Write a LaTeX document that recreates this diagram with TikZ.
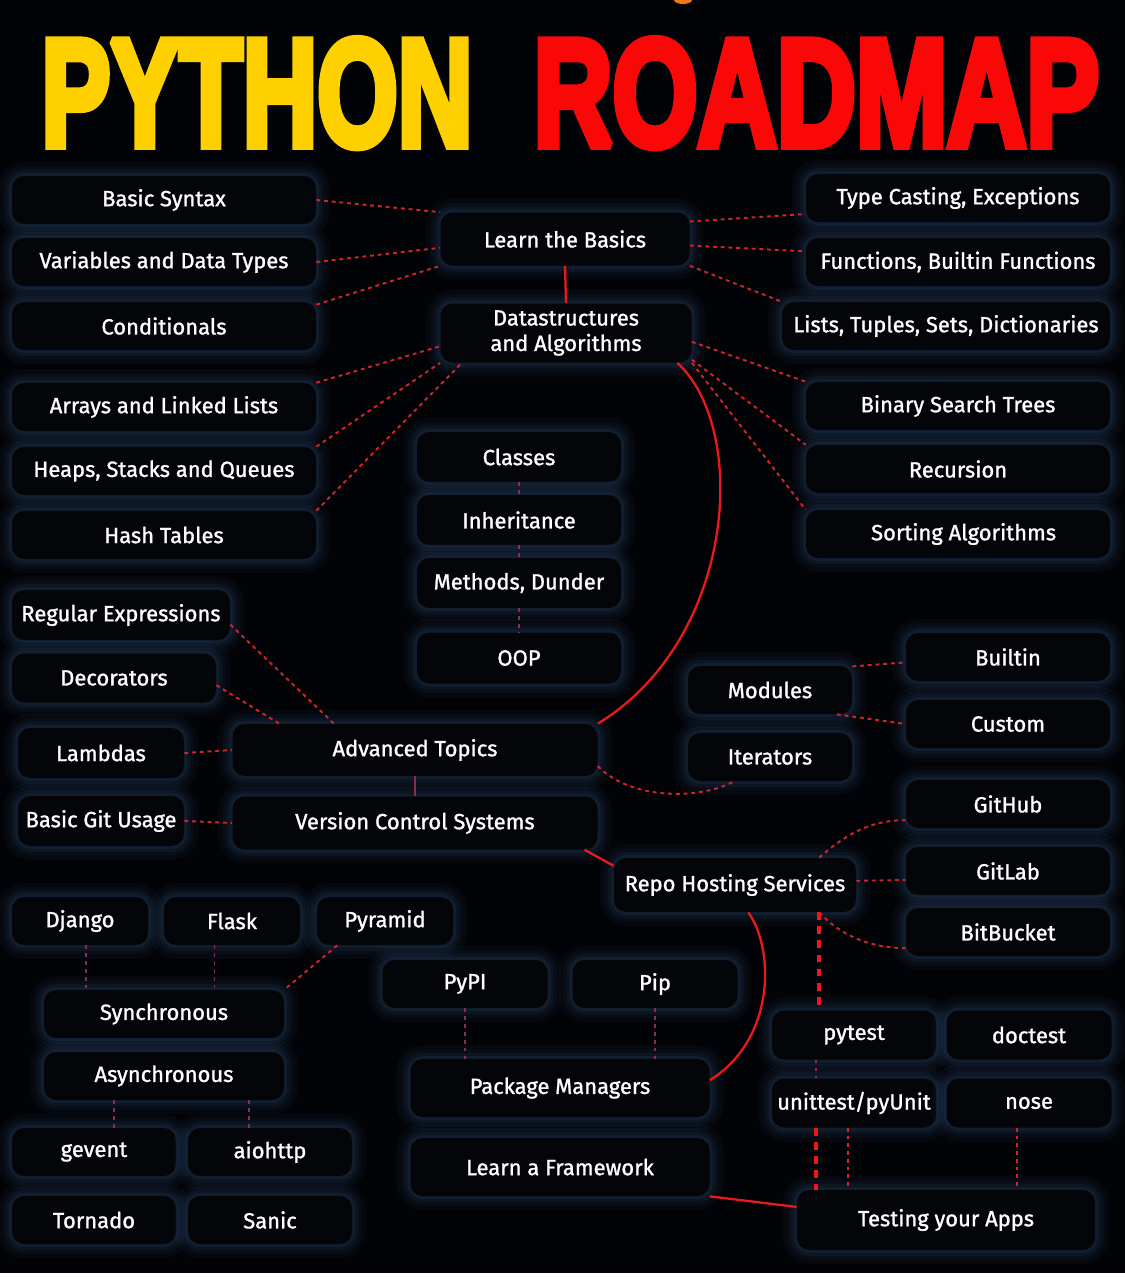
\documentclass[tikz,border=0pt]{standalone}
\usepackage{fontspec}
\usepackage{tikz}
\newfontfamily\boxfont{Fira Sans}[FakeBold=1.2]
\newfontfamily\titlefont{Liberation Sans}
\newcommand\heavy[1]{\special{pdf:literal direct 2 Tr 5 w 0 j 2 M}#1\special{pdf:literal direct 0 Tr 0.4 w 0 j 10 M}}
\definecolor{bgblack}{RGB}{2,3,6}
\definecolor{boxfill}{RGB}{4,5,8}
\definecolor{glow}{RGB}{65,110,170}
\definecolor{linkred}{RGB}{210,35,45}
\definecolor{wirered}{RGB}{235,25,25}
\definecolor{faintred}{RGB}{140,45,75}
\definecolor{titleyellow}{RGB}{255,208,0}
\definecolor{titlered}{RGB}{250,8,8}
\definecolor{titleorange}{RGB}{240,120,20}
\tikzset{
  topic/.style={rounded corners=7pt, fill=boxfill, text=white, inner sep=0pt, align=center,
    font=\boxfont\fontsize{12.5}{14.5}\selectfont, minimum height=48*0.02cm,
    preaction={draw=glow, line width=16pt, draw opacity=0.05},
    preaction={draw=glow, line width=11pt, draw opacity=0.06},
    preaction={draw=glow, line width=7pt, draw opacity=0.08},
    preaction={draw=glow, line width=3.5pt, draw opacity=0.1}},
  bw/.style={minimum width=#1*0.02cm},
  bh/.style={minimum height=#1*0.02cm},
  title/.style={anchor=base west, inner sep=0pt, font=\titlefont\bfseries\fontsize{86.6}{87}\selectfont},
  link/.style={draw=linkred, line width=1.1pt, dash pattern=on 2.2pt off 2.2pt},
  faint/.style={draw=faintred, line width=0.9pt, dash pattern=on 2pt off 2.5pt},
  tdash/.style={draw=wirered, line width=2.2pt, dash pattern=on 4.5pt off 3.5pt},
  wire/.style={draw=wirered, line width=1.3pt},
  dimwire/.style={draw=faintred, line width=1.1pt}
}
\begin{document}
\begin{tikzpicture}[x=0.02cm,y=-0.02cm]
\useasboundingbox (0,0) rectangle (1125,1279);
\fill[bgblack] (0,0) rectangle (1125,1273);
\fill[titleorange] (683,0) ellipse (9 and 4);
%
\node[title, text=titleyellow] (py) at (41,145.5) {\heavy{\scalebox{0.68}[1]{PYTHON}}};
\node[title, text=titlered] (rm) at (533,145.5) {\heavy{\scalebox{0.72}[1]{ROADMAP}}};
%
\node[topic, bw=304] (bs) at (164,200) {Basic Syntax};
\node[topic, bw=304] (vdt) at (164,262) {Variables and Data Types};
\node[topic, bw=304] (cond) at (164,326) {Conditionals};
\node[topic, bw=304] (arr) at (164,407) {Arrays and Linked Lists};
\node[topic, bw=304] (heap) at (164,471) {Heaps, Stacks and Queues};
\node[topic, bw=304] (hash) at (164,535) {Hash Tables};
%
\node[topic, bw=249, bh=53] (lb) at (565,239) {Learn the Basics};
\node[topic, bw=251, bh=59] (dsa) at (566,333) {Datastructures\\and Algorithms};
\node[topic, bw=204, bh=50] (cls) at (519,457) {Classes};
\node[topic, bw=204, bh=50] (inh) at (519,520) {Inheritance};
\node[topic, bw=204, bh=50] (meth) at (519,583) {Methods, Dunder};
\node[topic, bw=204, bh=51] (oop) at (519,658) {OOP};
%
\node[topic, bw=304] (tc) at (958,198) {Type Casting, Exceptions};
\node[topic, bw=304] (fn) at (958,262) {Functions, Builtin Functions};
\node[topic, bw=328] (lst) at (946,326) {Lists, Tuples, Sets, Dictionaries};
\node[topic, bw=304] (bst) at (958,406) {Binary Search Trees};
\node[topic, bw=304] (rec) at (958,469) {Recursion};
\node[topic, bw=304] (sort) at (958,534) {\hspace{16\pgflinewidth}Sorting Algorithms};
%
\node[topic, bw=218, bh=50] (regex) at (121,615) {Regular Expressions};
\node[topic, bw=204, bh=49] (dec) at (114,678) {Decorators};
\node[topic, bw=166, bh=50] (lam) at (101,753) {Lambdas};
\node[topic, bw=166, bh=50] (git) at (101,821) {Basic Git Usage};
\node[topic, bw=365, bh=52] (adv) at (415,750) {Advanced Topics};
\node[topic, bw=365, bh=53] (vcs) at (415,823) {Version Control Systems};
%
\node[topic, bw=164] (mod) at (770,690) {Modules};
\node[topic, bw=164] (it) at (770,757) {Iterators};
\node[topic, bw=204] (bi) at (1008,657) {Builtin};
\node[topic, bw=204] (cu) at (1008,724) {Custom};
\node[topic, bw=204] (gh) at (1008,804) {GitHub};
\node[topic, bw=204] (gl) at (1008,871) {GitLab};
\node[topic, bw=204] (bb) at (1008,932) {BitBucket};
\node[topic, bw=242, bh=54] (repo) at (735,885) {Repo Hosting Services};
%
\node[topic, bw=136] (dj) at (80,921) {Django};
\node[topic, bw=136] (fl) at (232,921) {Flask};
\node[topic, bw=136] (pyr) at (385,921) {Pyramid};
\node[topic, bw=240] (sync) at (164,1014) {Synchronous};
\node[topic, bw=240] (async) at (164,1076) {Asynchronous};
\node[topic, bw=164] (gev) at (94,1152) {gevent};
\node[topic, bw=164] (aio) at (270,1152) {aiohttp};
\node[topic, bw=164] (tor) at (94,1220) {Tornado};
\node[topic, bw=164] (san) at (270,1220) {Sanic};
%
\node[topic, bw=165] (pypi) at (465,984) {PyPI};
\node[topic, bw=165] (pip) at (655,984) {Pip};
\node[topic, bw=299, bh=58] (pkg) at (560,1088) {Package Managers};
\node[topic, bw=299, bh=58] (lf) at (560,1167) {Learn a Framework};
\node[topic, bw=164, bh=49] (pt) at (854,1035) {pytest};
\node[topic, bw=165, bh=49] (dt) at (1029,1035) {doctest};
\node[topic, bw=164, bh=49] (ut) at (854,1103) {unittest/pyUnit};
\node[topic, bw=165, bh=49] (nose) at (1029,1103) {nose};
\node[topic, bw=298, bh=60] (test) at (946,1220) {Testing your Apps};
%
\draw[link] (bs.east) -- (lb.north west);
\draw[link] (vdt.east) -- (lb.184);
\draw[link] (cond.8) -- (lb.south west);
\draw[link] (arr.north east) -- (dsa.186);
\draw[link] (heap.north east) -- (dsa.south west);
\draw[link] (hash.north east) -- (dsa.196);
\draw[link] (lb.8) -- (tc.186);
\draw[link] (lb.-3) -- (fn.176);
\draw[link] (lb.south east) -- (lst.north west);
\draw[link] (dsa.-4) -- (bst.north west);
\draw[link] (dsa.-12) -- (rec.north west);
\draw[link] (dsa.south east) -- (sort.north west);
\draw[wire] (lb.south) -- (dsa.north);
\draw[wire] (dsa.-15) .. controls (750,430) and (735,640) .. (adv.north east);
%
\draw[faint] (cls.south) -- (inh.north);
\draw[faint] (inh.south) -- (meth.north);
\draw[faint] (meth.south) -- (oop.north);
%
\draw[link] (regex.-5) -- (adv.162);
\draw[link] (dec.-4) -- (adv.169);
\draw[link] (lam.east) -- (adv.west);
\draw[dimwire] (adv.south) -- (vcs.north);
\draw[link] (git.east) -- (vcs.west);
\draw[link] (adv.-5) .. controls (630,800) and (700,800) .. (it.-146);
\draw[link] (mod.16) -- (bi.183);
\draw[link] (mod.-20) -- (cu.west);
%
\draw[wire] (vcs.-9) -- (repo.171);
\draw[link] (repo.18) .. controls (845,835) and (870,820) .. (gh.189);
\draw[link] (repo.2) -- (gl.185);
\draw[link] (repo.-18) .. controls (840,935) and (870,948) .. (bb.189);
\draw[wire] (repo.-64) .. controls (775,950) and (775,1040) .. (pkg.3);
\draw[tdash] (repo.-18) -- (repo.-18 |- pt.north);
%
\draw[faint] (pt.-147) -- (ut.147);
\draw[tdash] (ut.-147) -- (ut.-147 |- test.north);
\draw[link] (ut.-104) -- (ut.-104 |- test.north);
\draw[link] (nose.-115) -- (nose.-115 |- test.north);
\draw[wire] (lf.south east) -- (test.175);
%
\draw[faint] (pypi.south) -- (pypi.south |- pkg.north);
\draw[faint] (pip.south) -- (pip.south |- pkg.north);
\draw[faint] (dj.-76) -- (dj.-76 |- sync.north);
\draw[faint] (fl.-126) -- (fl.-126 |- sync.north);
\draw[link] (pyr.-153) -- (sync.north east);
\draw[faint] (async.-154) -- (async.-154 |- gev.north);
\draw[faint] (async.-16.5) -- (async.-16.5 |- aio.north);
%
\end{tikzpicture}
\end{document}
